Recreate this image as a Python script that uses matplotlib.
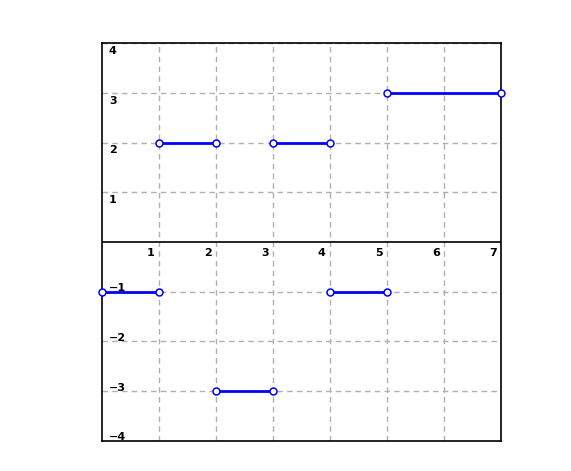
import matplotlib.pyplot as plt

# segmentos da funcao escada
x_inicio = [0, 1, 2, 3, 4, 5]
x_fim = [1, 2, 3, 4, 5, 7]
valores = [-1, 2, -3, 2, -1, 3]

x_ticks = [1, 2, 3, 4, 5, 6, 7]
y_ticks = [-4, -3, -2, -1, 1, 2, 3, 4]

fig = plt.figure(figsize=(5.71, 4.71), dpi=100)
ax = fig.add_axes([0.1786, 0.0637, 0.6988, 0.845])
ax.set_xlim(0, 7)
ax.set_ylim(-4, 4)

# grade tracejada
for xv in range(1, 8):
    ax.axvline(xv, color='#b0b0b0', ls=(0, (4, 3)), lw=1, zorder=1)
for yv in y_ticks:
    ax.axhline(yv, color='#b0b0b0', ls=(0, (4, 3)), lw=1, zorder=1)
ax.axhline(0, color='black', lw=1.2, zorder=2)

for a, b, v in zip(x_inicio, x_fim, valores):
    ax.plot([a, b], [v, v], color='blue', lw=2, zorder=3)
    ax.plot([a, b], [v, v], ls='none', marker='o', ms=5,
            mfc='white', mec='blue', mew=1.1, zorder=4, clip_on=False)

ax.set_xticks([])
ax.set_yticks([])
for s in ax.spines.values():
    s.set_linewidth(1.2)

fonte = dict(fontsize=8, fontweight='bold', family='DejaVu Sans')
for xv in x_ticks:
    ax.annotate(str(xv), (xv, 0), xytext=(-3, -4), textcoords='offset points',
                ha='right', va='top', **fonte)
for yv in y_ticks:
    rotulo = str(yv).replace('-', '\u2212')
    if yv > 0:
        ax.annotate(rotulo, (0, yv), xytext=(5, -2), textcoords='offset points',
                    ha='left', va='top', **fonte)
    else:
        ax.annotate(rotulo, (0, yv), xytext=(5, -1), textcoords='offset points',
                    ha='left', va='bottom', zorder=5, **fonte)

fig.savefig('out.png', dpi=100)
